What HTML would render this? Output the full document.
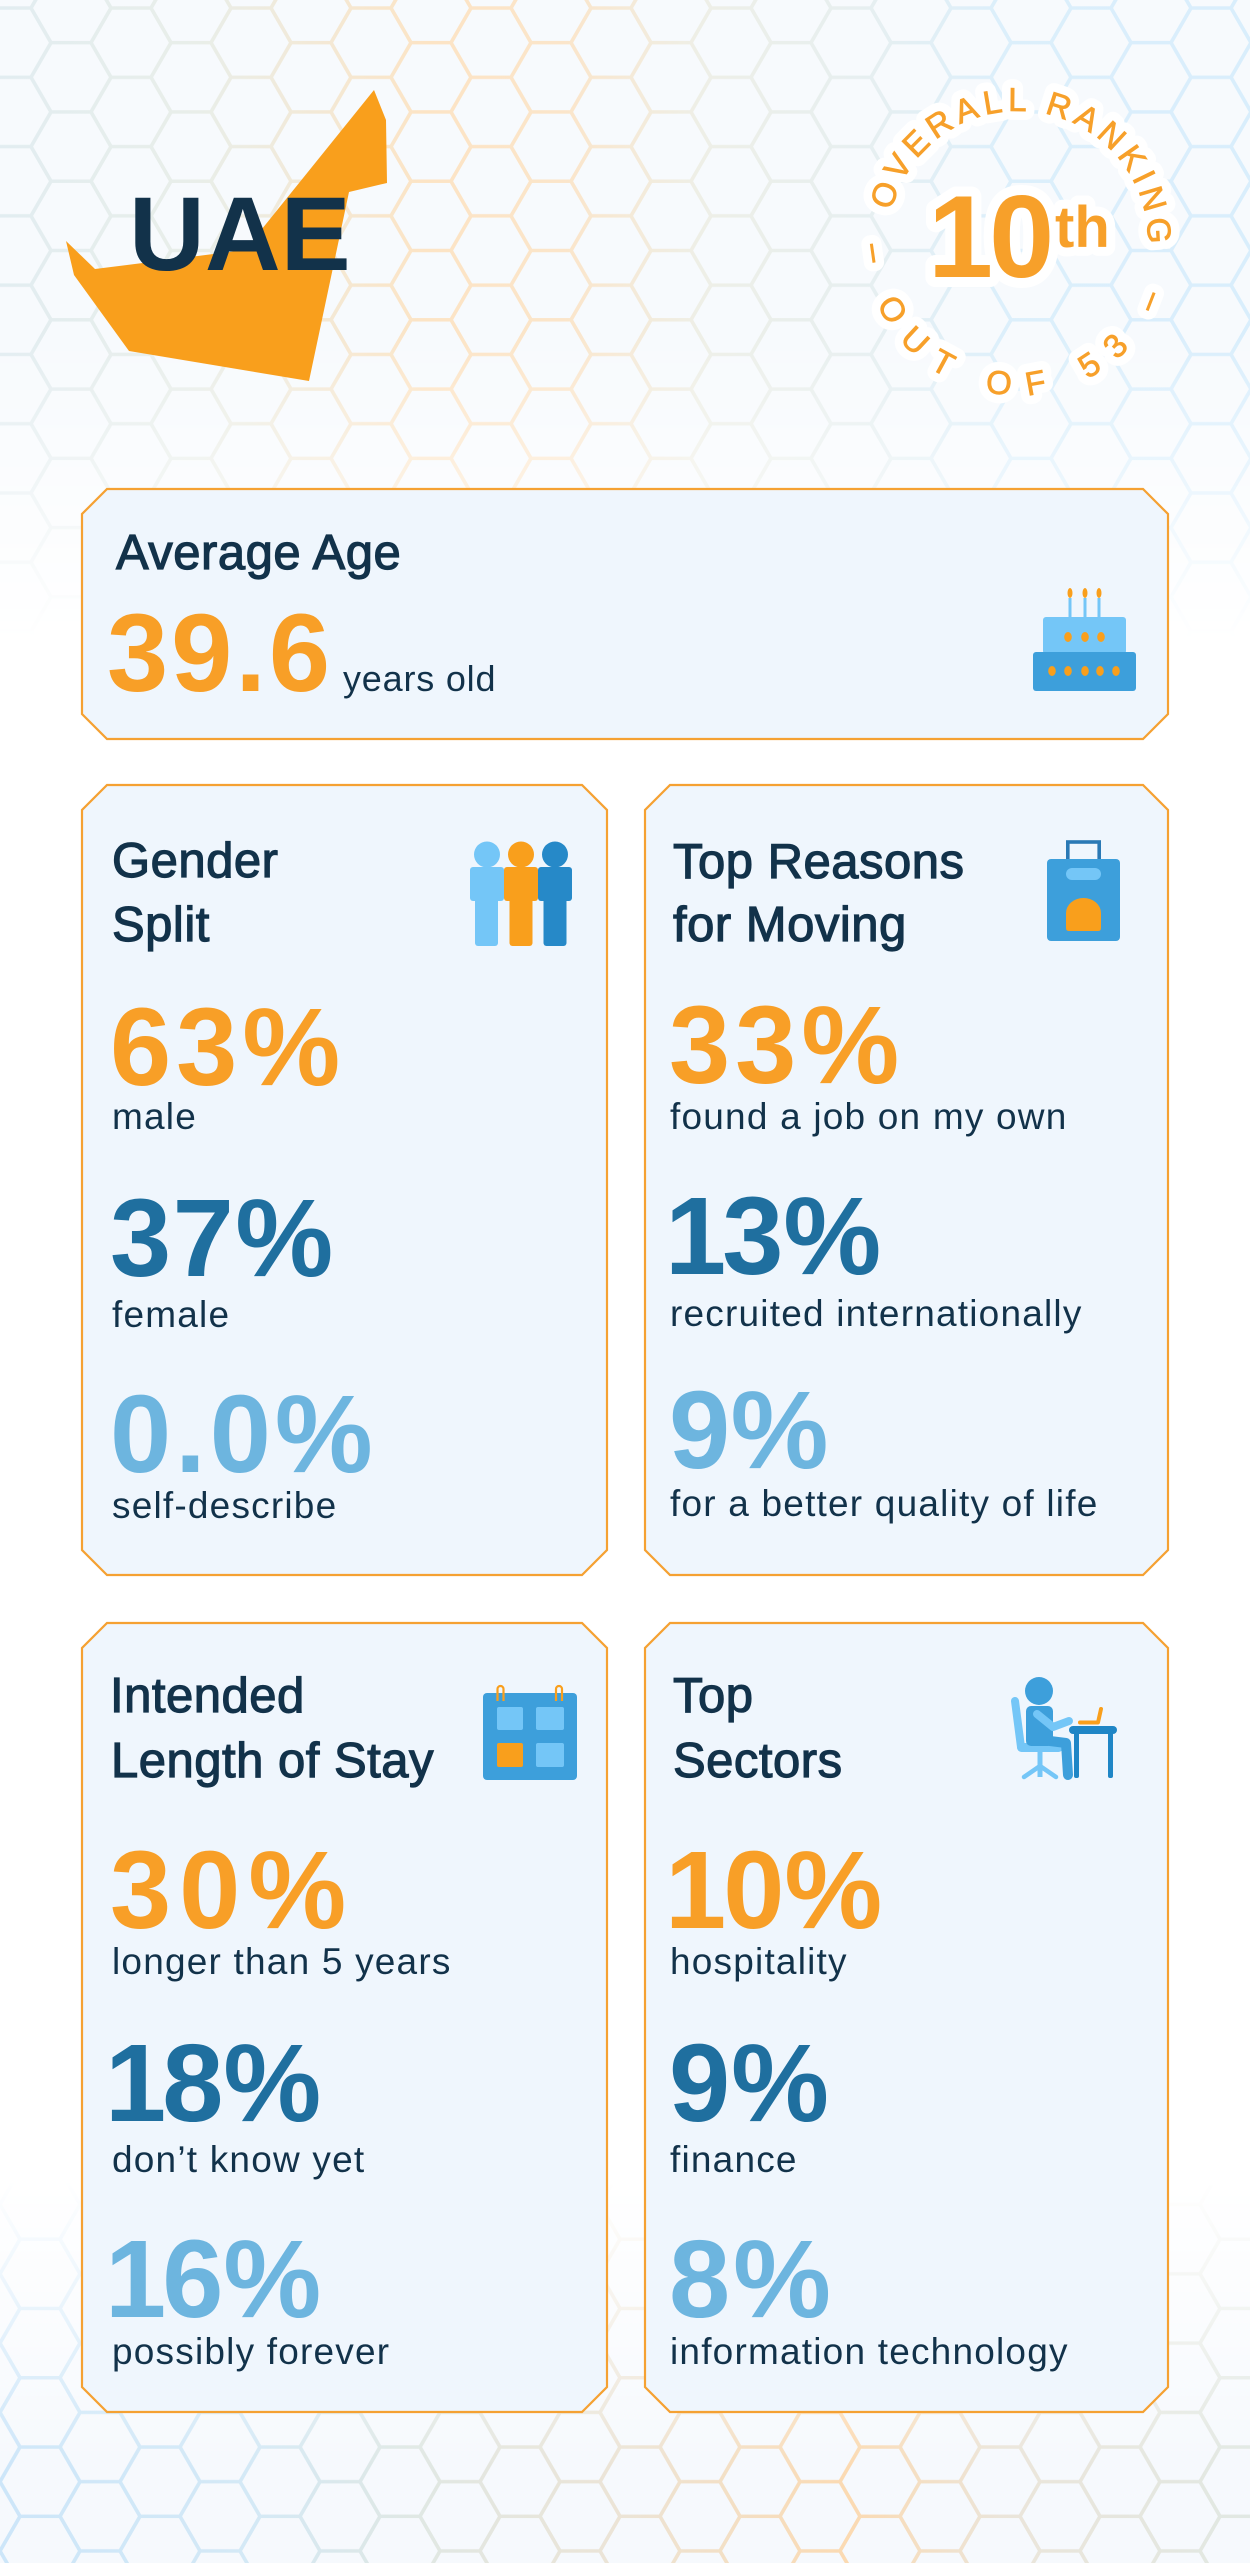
<!DOCTYPE html>
<html>
<head>
<meta charset="utf-8">
<style>
  html,body{margin:0;padding:0;background:#ffffff;}
  body{width:1250px;height:2563px;overflow:hidden;}
  svg{display:block;}
  .t{font-family:"Liberation Sans",sans-serif;}
  .title{font-size:49px;fill:#12324a;stroke:#12324a;stroke-width:1.2px;letter-spacing:0.5px;}
  .num{font-size:110px;font-weight:bold;}
  .lab{font-size:37px;fill:#12324a;letter-spacing:1.2px;}
  .o{fill:#f89f27;}
  .b{fill:#1f6f9f;}
  .l{fill:#6db5df;}
</style>
</head>
<body>
<svg width="1250" height="2563" viewBox="0 0 1250 2563" xmlns="http://www.w3.org/2000/svg">
  <defs>
    <pattern id="patTop" patternUnits="userSpaceOnUse" x="71" y="8.02" width="120" height="69.282">
      <g fill="none" stroke="#ffffff" stroke-width="3.5">
        <polygon points="-40,0 -20,-34.641 20,-34.641 40,0 20,34.641 -20,34.641"/>
        <polygon points="80,0 100,-34.641 140,-34.641 160,0 140,34.641 100,34.641"/>
        <polygon points="-40,69.282 -20,34.641 20,34.641 40,69.282 20,103.923 -20,103.923"/>
        <polygon points="80,69.282 100,34.641 140,34.641 160,69.282 140,103.923 100,103.923"/>
        <polygon points="20,34.641 40,0 80,0 100,34.641 80,69.282 40,69.282"/>
      </g>
    </pattern>
    <pattern id="patBot" patternUnits="userSpaceOnUse" x="40" y="56.8" width="120" height="69.282">
      <g fill="none" stroke="#ffffff" stroke-width="3.5">
        <polygon points="-40,0 -20,-34.641 20,-34.641 40,0 20,34.641 -20,34.641"/>
        <polygon points="80,0 100,-34.641 140,-34.641 160,0 140,34.641 100,34.641"/>
        <polygon points="-40,69.282 -20,34.641 20,34.641 40,69.282 20,103.923 -20,103.923"/>
        <polygon points="80,69.282 100,34.641 140,34.641 160,69.282 140,103.923 100,103.923"/>
        <polygon points="20,34.641 40,0 80,0 100,34.641 80,69.282 40,69.282"/>
      </g>
    </pattern>
    <linearGradient id="gTop" gradientUnits="userSpaceOnUse" x1="0" y1="0" x2="1250" y2="0">
      <stop offset="0" stop-color="#e2edf1"/>
      <stop offset="0.16" stop-color="#e9eee9"/>
      <stop offset="0.34" stop-color="#fce4c5"/>
      <stop offset="0.45" stop-color="#fbe5ca"/>
      <stop offset="0.56" stop-color="#eeefe7"/>
      <stop offset="0.7" stop-color="#e6eff1"/>
      <stop offset="0.8" stop-color="#dcefFb"/>
      <stop offset="1" stop-color="#d9eefc"/>
    </linearGradient>
    <linearGradient id="gBot" gradientUnits="userSpaceOnUse" x1="0" y1="0" x2="1250" y2="0">
      <stop offset="0" stop-color="#cde6f9"/>
      <stop offset="0.2" stop-color="#d4e9f6"/>
      <stop offset="0.32" stop-color="#dfe8e5"/>
      <stop offset="0.5" stop-color="#ece4d6"/>
      <stop offset="0.68" stop-color="#fbdab2"/>
      <stop offset="0.8" stop-color="#ebe5da"/>
      <stop offset="1" stop-color="#e1e8e3"/>
    </linearGradient>
    <linearGradient id="fTopG" gradientUnits="userSpaceOnUse" x1="0" y1="0" x2="0" y2="640">
      <stop offset="0" stop-color="#ffffff"/>
      <stop offset="0.52" stop-color="#ffffff"/>
      <stop offset="1" stop-color="#000000"/>
    </linearGradient>
    <linearGradient id="fBotG" gradientUnits="userSpaceOnUse" x1="0" y1="2180" x2="0" y2="2563">
      <stop offset="0" stop-color="#000000"/>
      <stop offset="0.75" stop-color="#ffffff"/>
      <stop offset="1" stop-color="#ffffff"/>
    </linearGradient>
    <mask id="mHexTop" maskUnits="userSpaceOnUse" x="0" y="0" width="1250" height="700">
      <rect x="0" y="0" width="1250" height="700" fill="url(#patTop)"/>
    </mask>
    <mask id="mHexBot" maskUnits="userSpaceOnUse" x="0" y="2100" width="1250" height="463">
      <rect x="0" y="2100" width="1250" height="463" fill="url(#patBot)"/>
    </mask>
    <mask id="mFadeTop" maskUnits="userSpaceOnUse" x="0" y="0" width="1250" height="700">
      <rect x="0" y="0" width="1250" height="700" fill="url(#fTopG)"/>
    </mask>
    <mask id="mFadeBot" maskUnits="userSpaceOnUse" x="0" y="2100" width="1250" height="463">
      <rect x="0" y="2100" width="1250" height="463" fill="url(#fBotG)"/>
    </mask>
    <path id="arcTop" d="M905.4,306 A130,130 0 1 1 1130.6,306" fill="none"/>
    <path id="arcBot" d="M873.3,188.3 A154,154 0 1 0 1162.7,188.3" fill="none"/>
  </defs>

  <!-- background hex top -->
  <g mask="url(#mFadeTop)">
    <rect x="0" y="0" width="1250" height="700" fill="#f7fafd"/>
    <rect x="0" y="0" width="1250" height="700" fill="url(#gTop)" mask="url(#mHexTop)"/>
  </g>
  <!-- background hex bottom -->
  <g mask="url(#mFadeBot)">
    <rect x="0" y="2100" width="1250" height="463" fill="#f6f9fd"/>
    <rect x="0" y="2100" width="1250" height="463" fill="url(#gBot)" mask="url(#mHexBot)"/>
  </g>

  <!-- UAE map shape -->
  <polygon points="374,90 386,120 387,183 349,192 309,381 129,351 74,275 66,241 95,269 245,250" fill="#f99f1c"/>
  <text class="t" x="129" y="270" font-size="105" font-weight="bold" fill="#12324a">UAE</text>

  <!-- Badge halo layer -->
  <g class="t" font-size="33" fill="#ffffff" stroke="#ffffff" stroke-linejoin="round">
    <text letter-spacing="5" stroke-width="18"><textPath href="#arcTop" startOffset="53.5%" text-anchor="middle">OVERALL RANKING</textPath></text>
    <text letter-spacing="16.5" stroke-width="18"><textPath href="#arcBot" startOffset="47%" text-anchor="middle">– OUT OF 53 –</textPath></text>
    <text x="928" y="277" font-size="117" font-weight="bold" letter-spacing="-4" stroke-width="20">10</text>
    <text x="1055" y="247" font-size="58" font-weight="bold" stroke-width="18">th</text>
  </g>
  <!-- Badge text layer -->
  <g class="t" font-size="33" fill="#f7a02a" stroke="#f7a02a">
    <text letter-spacing="5" stroke-width="0.8"><textPath href="#arcTop" startOffset="53.5%" text-anchor="middle">OVERALL RANKING</textPath></text>
    <text letter-spacing="16.5" stroke-width="0.8"><textPath href="#arcBot" startOffset="47%" text-anchor="middle">– OUT OF 53 –</textPath></text>
    <text x="928" y="277" font-size="117" font-weight="bold" letter-spacing="-4" stroke-width="0">10</text>
    <text x="1055" y="247" font-size="58" font-weight="bold" stroke-width="0">th</text>
  </g>

  <!-- Cards -->
  <g fill="#eff6fd" stroke="#f5a132" stroke-width="2.2">
    <path d="M107,489 H1143 L1168,514 V714 L1143,739 H107 L82,714 V514 Z"/>
    <path d="M107,785 H582 L607,810 V1550 L582,1575 H107 L82,1550 V810 Z"/>
    <path d="M670,785 H1143 L1168,810 V1550 L1143,1575 H670 L645,1550 V810 Z"/>
    <path d="M107,1623 H582 L607,1648 V2387 L582,2412 H107 L82,2387 V1648 Z"/>
    <path d="M670,1623 H1143 L1168,1648 V2387 L1143,2412 H670 L645,2387 V1648 Z"/>
  </g>

  <!-- Card 1: Average Age -->
  <text class="t title" x="116" y="569">Average Age</text>
  <text class="t num o" x="107" y="691" letter-spacing="3">39.6</text>
  <text class="t" x="343" y="691" font-size="36" fill="#12324a" letter-spacing="0.8">years old</text>
  <!-- cake -->
  <g>
    <ellipse cx="1070" cy="593" rx="2.5" ry="5" fill="#f99f1c"/>
    <ellipse cx="1085" cy="593" rx="2.5" ry="5" fill="#f99f1c"/>
    <ellipse cx="1099" cy="593" rx="2.5" ry="5" fill="#f99f1c"/>
    <rect x="1068.5" y="598" width="3" height="21" fill="#74c6f7"/>
    <rect x="1083.5" y="598" width="3" height="21" fill="#74c6f7"/>
    <rect x="1097.5" y="598" width="3" height="21" fill="#74c6f7"/>
    <rect x="1043" y="617" width="83" height="37" rx="3" fill="#74c6f7"/>
    <rect x="1033" y="652" width="103" height="39" rx="3" fill="#3d9fdb"/>
    <ellipse cx="1068" cy="637" rx="3.8" ry="5" fill="#f99f1c"/>
    <ellipse cx="1085" cy="637" rx="3.8" ry="5" fill="#f99f1c"/>
    <ellipse cx="1101" cy="637" rx="3.8" ry="5" fill="#f99f1c"/>
    <ellipse cx="1052" cy="671" rx="3.8" ry="5" fill="#f99f1c"/>
    <ellipse cx="1068" cy="671" rx="3.8" ry="5" fill="#f99f1c"/>
    <ellipse cx="1085" cy="671" rx="3.8" ry="5" fill="#f99f1c"/>
    <ellipse cx="1100" cy="671" rx="3.8" ry="5" fill="#f99f1c"/>
    <ellipse cx="1116" cy="671" rx="3.8" ry="5" fill="#f99f1c"/>
  </g>

  <!-- Card 2: Gender Split -->
  <text class="t title" x="112" y="877">Gender</text>
  <text class="t title" x="112" y="941">Split</text>
  <text class="t num o" x="110" y="1085" letter-spacing="5">63%</text>
  <text class="t lab" x="112" y="1129">male</text>
  <text class="t num b" x="110" y="1276" letter-spacing="1.5">37%</text>
  <text class="t lab" x="112" y="1327">female</text>
  <text class="t num l" x="110" y="1472" letter-spacing="4">0.0%</text>
  <text class="t lab" x="112" y="1518">self-describe</text>
  <!-- people icon -->
  <g>
    <circle cx="487" cy="854.5" r="13" fill="#74c6f7"/>
    <rect x="470" y="867" width="34" height="34" rx="3" fill="#74c6f7"/>
    <rect x="475" y="895" width="23" height="51" rx="3" fill="#74c6f7"/>
    <circle cx="521" cy="854.5" r="13" fill="#f99f1c"/>
    <rect x="504" y="867" width="34" height="34" rx="3" fill="#f99f1c"/>
    <rect x="509.5" y="895" width="23" height="51" rx="3" fill="#f99f1c"/>
    <circle cx="555" cy="854.5" r="13" fill="#2689c8"/>
    <rect x="538" y="867" width="34" height="34" rx="3" fill="#2689c8"/>
    <rect x="543.5" y="895" width="23" height="51" rx="3" fill="#2689c8"/>
  </g>

  <!-- Card 3: Top Reasons -->
  <text class="t title" x="673" y="878">Top Reasons</text>
  <text class="t title" x="673" y="941">for Moving</text>
  <text class="t num o" x="669" y="1083" letter-spacing="5">33%</text>
  <text class="t lab" x="670" y="1129">found a job on my own</text>
  <text class="t num b" x="665" y="1274">1<tspan dx="-4">3%</tspan></text>
  <text class="t lab" x="670" y="1326">recruited internationally</text>
  <text class="t num l" x="669" y="1468" letter-spacing="0.5">9%</text>
  <text class="t lab" x="670" y="1516">for a better quality of life</text>
  <!-- suitcase -->
  <g transform="translate(-6,0)">
    <rect x="1073.8" y="842" width="31.4" height="20" fill="none" stroke="#2a79b5" stroke-width="3.6"/>
    <rect x="1053" y="859" width="73" height="82" rx="4" fill="#3d9fdb"/>
    <rect x="1072" y="868" width="35" height="12" rx="6" fill="#74c6f7"/>
    <path d="M1072,928 L1072,913 A17.5,15 0 0 1 1107,913 L1107,928 Q1107,931 1104,931 L1075,931 Q1072,931 1072,928 Z" fill="#f99f1c"/>
  </g>

  <!-- Card 4: Intended Length of Stay -->
  <text class="t title" x="110" y="1712">Intended</text>
  <text class="t title" x="111" y="1777">Length of Stay</text>
  <text class="t num o" x="110" y="1928" letter-spacing="8">30%</text>
  <text class="t lab" x="112" y="1974">longer than 5 years</text>
  <text class="t num b" x="105" y="2121">1<tspan dx="-4">8%</tspan></text>
  <text class="t lab" x="112" y="2172">don’t know yet</text>
  <text class="t num l" x="105" y="2317">1<tspan dx="-4">6%</tspan></text>
  <text class="t lab" x="112" y="2364">possibly forever</text>
  <!-- calendar -->
  <g>
    <rect x="483" y="1693" width="94" height="87" rx="4" fill="#3d9fdb"/>
    <path d="M497.5,1701 L497.5,1689 A3,3 0 0 1 503.5,1689 L503.5,1701" fill="none" stroke="#f99f1c" stroke-width="2.2"/>
    <path d="M556,1701 L556,1689 A3,3 0 0 1 562,1689 L562,1701" fill="none" stroke="#f99f1c" stroke-width="2.2"/>
    <rect x="497" y="1707" width="26" height="23" rx="2" fill="#74c6f7"/>
    <rect x="536" y="1707" width="28" height="23" rx="2" fill="#74c6f7"/>
    <rect x="497" y="1743" width="26" height="24" rx="2" fill="#f99f1c"/>
    <rect x="536" y="1743" width="28" height="24" rx="2" fill="#74c6f7"/>
  </g>

  <!-- Card 5: Top Sectors -->
  <text class="t title" x="673" y="1712">Top</text>
  <text class="t title" x="673" y="1777">Sectors</text>
  <text class="t num o" x="665" y="1928">1<tspan dx="-3">0%</tspan></text>
  <text class="t lab" x="670" y="1974">hospitality</text>
  <text class="t num b" x="669" y="2121" letter-spacing="1">9%</text>
  <text class="t lab" x="670" y="2172">finance</text>
  <text class="t num l" x="669" y="2317" letter-spacing="3">8%</text>
  <text class="t lab" x="670" y="2364">information technology</text>
  <!-- desk worker -->
  <g>
    <line x1="1015" y1="1701" x2="1021" y2="1747" stroke="#74c6f7" stroke-width="8" stroke-linecap="round"/>
    <rect x="1017" y="1743" width="46" height="9" rx="4.5" fill="#74c6f7"/>
    <line x1="1040" y1="1752" x2="1040" y2="1777" stroke="#74c6f7" stroke-width="5"/>
    <path d="M1024,1777 L1040,1766 L1056,1777" stroke="#74c6f7" stroke-width="4.5" fill="none" stroke-linecap="round" stroke-linejoin="round"/>
    <path d="M1050,1741 L1066,1743 L1068,1775" stroke="#3d9fdb" stroke-width="10" fill="none" stroke-linecap="round" stroke-linejoin="round"/>
    <rect x="1026" y="1706" width="27" height="40" rx="5" fill="#3d9fdb"/>
    <path d="M1037,1714 L1053,1727 L1069,1721" stroke="#74c6f7" stroke-width="8" fill="none" stroke-linecap="round" stroke-linejoin="round"/>
    <circle cx="1039" cy="1691" r="14" fill="#3d9fdb"/>
    <rect x="1069" y="1726" width="48" height="8" rx="4" fill="#1f86c6"/>
    <rect x="1074" y="1732" width="5" height="46" rx="2" fill="#1f86c6"/>
    <rect x="1108" y="1732" width="5" height="46" rx="2" fill="#1f86c6"/>
    <path d="M1080,1722.5 L1098,1722.5 L1101,1709" stroke="#f99f1c" stroke-width="4" fill="none" stroke-linecap="round" stroke-linejoin="round"/>
  </g>
</svg>
</body>
</html>
